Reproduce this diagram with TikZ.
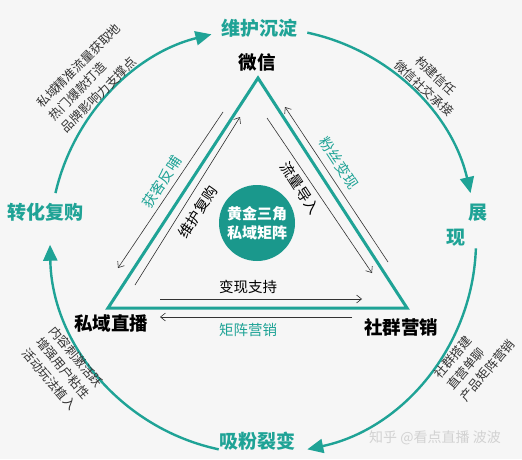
\documentclass[tikz,border=0pt]{standalone}
\usepackage{fontspec}
\setmainfont{Noto Sans CJK SC}
\usetikzlibrary{arrows.meta}
\definecolor{ringteal}{HTML}{1FA396}
\definecolor{coreteal}{HTML}{1A988C}
\definecolor{ink}{HTML}{333333}
\definecolor{paper}{HTML}{F6F6F6}
\definecolor{mark}{HTML}{D2D2D2}

\begin{document}
\begin{tikzpicture}[
  x=1pt, y=1pt,
  stage/.style={font=\fontsize{19}{22}\selectfont\bfseries, text=ringteal, inner sep=0pt},
  corner/.style={font=\fontsize{18.5}{22}\selectfont\bfseries, text=black, inner sep=0pt},
  note/.style={font=\fontsize{12.5}{17.5}\selectfont, text=ink, inner sep=0pt},
  flowlabel/.style={font=\fontsize{14.5}{17}\selectfont, inner sep=0pt},
  ring/.style={line width=2.4pt, draw=ringteal, -{Triangle[length=16pt, width=14pt]}},
  flow/.style={-{Straight Barb[length=5pt, width=8pt]}, line width=0.6pt, draw=ink}
]
\useasboundingbox (0,0) rectangle (522,459);
\fill[paper] (0,0) rectangle (522,459);

% outer ring
\coordinate (ring) at (263,218);
\draw[ring] (ring) ++(78:213) arc[start angle=78, end angle=13, radius=213];
\draw[ring] (ring) ++(-2:213) arc[start angle=-2, end angle=-78, radius=213];
\draw[ring] (ring) ++(258:213) arc[start angle=258, end angle=181, radius=213];
\draw[ring] (ring) ++(167:213) arc[start angle=167, end angle=104, radius=213];

\node[stage] (keep) at (259,431) {维护沉淀};
\node[stage] (showa) at (478,246) {展};
\node[stage] (showb) at (456,221) {现};
\node[stage] (grow) at (257,18) {吸粉裂变};
\node[stage] (buy) at (46,247) {转化复购};

\node[note, rotate=45, align=left] (noteA) at (91,381) {私域精准流量获取地\\热门爆款打造\\品牌影响力支撑点};
\node[note, rotate=-43, align=center] (noteB) at (430,377) {构建信任\\微信社交承接};
\node[note, rotate=50, align=left] (noteC) at (474,100) {社群搭建\\直营单聊\\产品矩阵营销};
\node[note, rotate=-50, align=left] (noteD) at (63,91) {内容刺激活跃\\增强用户粘性\\活动玩法植入};

% golden triangle
\coordinate (wx) at (258,381);
\coordinate (zb) at (108,151);
\coordinate (sq) at (407,151);
\draw[ringteal, line width=3pt, line join=miter] (wx) -- (zb) -- (sq) -- cycle;

\node[corner] (wechat) at (257,397) {微信};
\node[corner] (live) at (111,136) {私域直播};
\node[corner] (group) at (401,132) {社群营销};

\node[circle, fill=coreteal, minimum size=76pt, inner sep=0pt, text=white,
  font=\fontsize{15}{19}\selectfont\bfseries, align=center] (core) at (257,236) {黄金三角\\私域矩阵};

% paired flows along the edges
\coordinate (l1s) at (223,347); \coordinate (l1e) at (118,191);
\coordinate (l2s) at (135,174); \coordinate (l2e) at (240,342);
\coordinate (r1s) at (388,197); \coordinate (r1e) at (285,352);
\coordinate (r2s) at (267,341); \coordinate (r2e) at (372,186);
\coordinate (b1s) at (160,160); \coordinate (b1e) at (362,160);
\coordinate (b2s) at (352,142); \coordinate (b2e) at (160,142);
\draw[flow] (l1s) -- (l1e);
\draw[flow] (l2s) -- (l2e);
\draw[flow] (r1s) -- (r1e);
\draw[flow] (r2s) -- (r2e);
\draw[flow] (b1s) -- (b1e);
\draw[flow] (b2s) -- (b2e);

\node[flowlabel, text=ringteal, rotate=57] (gain) at (162,277) {获客反哺};
\node[flowlabel, text=black, rotate=57] (rebuy) at (198,247) {维护复购};
\node[flowlabel, text=black, rotate=-57] (inflow) at (300,271) {流量导入};
\node[flowlabel, text=ringteal, rotate=-57] (cash) at (339,296) {粉丝变现};
\node[flowlabel, text=black] (support) at (248,172) {变现支持};
\node[flowlabel, text=ringteal] (matrix) at (248,129) {矩阵营销};

\node[font=\fontsize{14}{16}\selectfont, text=mark, inner sep=0pt] (sign) at (435,21) {知乎 @看点直播 波波};
\end{tikzpicture}
\end{document}
